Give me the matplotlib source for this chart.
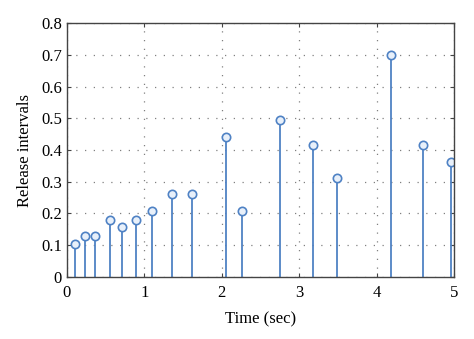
import matplotlib
matplotlib.use("Agg")
import matplotlib.pyplot as plt

# Release times (sec) and release intervals
time_sec = [0.105, 0.237, 0.366, 0.552, 0.71, 0.889, 1.10, 1.358, 1.617,
            2.057, 2.265, 2.756, 3.174, 3.484, 4.19, 4.60, 4.965]
intervals = [0.104, 0.13, 0.13, 0.181, 0.156, 0.181, 0.207, 0.26, 0.26,
             0.442, 0.207, 0.494, 0.416, 0.312, 0.70, 0.416, 0.363]

x_ticks = [0, 1, 2, 3, 4, 5]
y_ticks = [0, 0.1, 0.2, 0.3, 0.4, 0.5, 0.6, 0.7, 0.8]

plt.rcParams['font.family'] = ['Liberation Serif', 'DejaVu Serif']

fig = plt.figure(figsize=(4.74, 3.39), dpi=100)
ax = fig.add_axes([0.141, 0.183, 0.817, 0.749])

stem_color = '#4f82c4'
markers, stems, base = ax.stem(time_sec, intervals, basefmt=' ')
plt.setp(stems, color=stem_color, linewidth=1.3)
plt.setp(markers, color=stem_color, markerfacecolor='#e8f0fa',
         markersize=6, markeredgewidth=1.2)

ax.set_xlim(0, 5)
ax.set_ylim(0, 0.8)
ax.set_xticks(x_ticks)
ax.set_yticks(y_ticks)
ax.set_xticklabels([str(t) for t in x_ticks])
ax.set_yticklabels(['0' if v == 0 else f'{v:.1f}' for v in y_ticks])

ax.grid(True, linestyle=(0, (1, 6)), color='#808080', linewidth=0.9)
ax.tick_params(direction='in', top=True, right=True, labelsize=12,
               length=3, color='#444444')
ax.tick_params(axis='x', pad=6)
for s in ax.spines.values():
    s.set_color('#444444')
    s.set_linewidth(1.0)

ax.set_xlabel('Time (sec)', fontsize=12, labelpad=7)
ax.set_ylabel('Release intervals', fontsize=12, labelpad=6)

fig.savefig('out.png', dpi=100)
